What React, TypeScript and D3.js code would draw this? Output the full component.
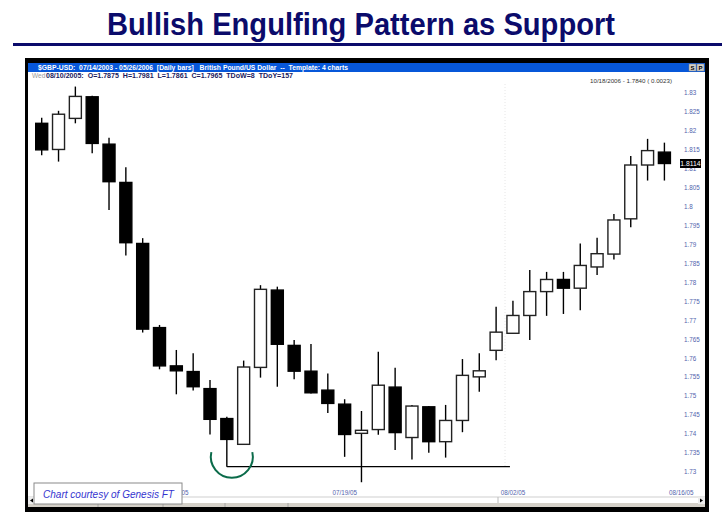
import React from "react";
import * as d3 from "d3";

const dates = [
  "06/23/05", "06/24/05", "06/27/05", "06/28/05", "06/29/05", "06/30/05", "07/01/05", "07/04/05",
  "07/05/05", "07/06/05", "07/07/05", "07/08/05", "07/11/05", "07/12/05", "07/13/05", "07/14/05",
  "07/15/05", "07/18/05", "07/19/05", "07/20/05", "07/21/05", "07/22/05", "07/25/05", "07/26/05",
  "07/27/05", "07/28/05", "07/29/05", "08/01/05", "08/02/05", "08/03/05", "08/04/05", "08/05/05",
  "08/08/05", "08/09/05", "08/10/05", "08/11/05", "08/12/05", "08/15/05",
];
const futureSlot = ["08/16/05"];

const openVals = [1.8220, 1.8151, 1.8233, 1.8290, 1.8165, 1.8064, 1.7903, 1.7681, 1.7580, 1.7565, 1.7520, 1.7441, 1.7373, 1.7576, 1.7780, 1.7634, 1.7566, 1.7516, 1.7479, 1.7402, 1.7412, 1.7524, 1.7391, 1.7472, 1.7380, 1.7436, 1.7551, 1.7621, 1.7666, 1.7713, 1.7776, 1.7808, 1.7785, 1.7841, 1.7875, 1.7968, 1.8110, 1.8144];
const highVals = [1.8235, 1.8253, 1.8317, 1.8293, 1.8182, 1.8104, 1.7917, 1.7688, 1.7622, 1.7613, 1.7543, 1.7446, 1.7594, 1.7793, 1.7789, 1.7648, 1.7638, 1.7560, 1.7492, 1.7461, 1.7617, 1.7575, 1.7477, 1.7474, 1.7477, 1.7598, 1.7613, 1.7736, 1.7752, 1.7833, 1.7828, 1.7828, 1.7903, 1.7918, 1.7981, 1.8134, 1.8179, 1.8169];
const lowVals = [1.8136, 1.8119, 1.8220, 1.8141, 1.7991, 1.7871, 1.7668, 1.7571, 1.7505, 1.7515, 1.7399, 1.7314, 1.7373, 1.7549, 1.7525, 1.7545, 1.7507, 1.7456, 1.7340, 1.7273, 1.7398, 1.7358, 1.7333, 1.7351, 1.7338, 1.7405, 1.7512, 1.7595, 1.7664, 1.7648, 1.7712, 1.7717, 1.7727, 1.7820, 1.7861, 1.7946, 1.8069, 1.8069];
const closeVals = [1.8150, 1.8244, 1.8291, 1.8167, 1.8066, 1.7905, 1.7677, 1.7580, 1.7567, 1.7525, 1.7439, 1.7386, 1.7577, 1.7782, 1.7637, 1.7566, 1.7509, 1.7481, 1.7399, 1.7410, 1.7529, 1.7404, 1.7474, 1.7380, 1.7436, 1.7555, 1.7567, 1.7669, 1.7713, 1.7776, 1.7808, 1.7785, 1.7845, 1.7876, 1.7965, 1.8110, 1.8148, 1.8114];

const yTicks = [1.73, 1.735, 1.74, 1.745, 1.75, 1.755, 1.76, 1.765, 1.77, 1.775, 1.78, 1.785, 1.79, 1.795, 1.8, 1.805, 1.81, 1.815, 1.82, 1.825, 1.83];
const xTickLabels = ["07/05/05", "07/19/05", "08/02/05", "08/16/05"];

const titleText = "Bullish Engulfing Pattern as Support";
const headerText = "$GBP-USD:  07/14/2003 - 05/26/2006  [Daily bars]   British Pound/US Dollar  --  Template: 4 charts";
const infoText = "08/10/2005:  O=1.7875  H=1.7981  L=1.7861  C=1.7965  TDoW=8  TDoY=157";
const cursorText = "10/18/2006 - 1.7840 ( 0.0023)";
const supportStart = "07/08/05";
const supportEnd = "08/02/05";
const lastPrice = 1.8114;
const courtesyText = "Chart courtesy of Genesis FT";

export default function App() {
  const allDates = [...dates, ...futureSlot];
  const x = d3.scalePoint<string>().domain(allDates).range([41.7, 41.7 + 16.83 * (allDates.length - 1)]);
  const y = d3.scaleLinear().domain([1.73, 1.83]).range([472, 93]);
  const fmt = d3.format(".4~f");
  const bw = 12;

  const candles = dates.map((d, i) => ({
    d, o: openVals[i], h: highVals[i], l: lowVals[i], c: closeVals[i],
  }));

  const sx = x(supportStart)!;
  const sy = y(lowVals[dates.indexOf(supportStart)]);
  const ex = x(supportEnd)! - 3;

  const arcPath = d3.path();
  const acx = sx + 5;
  const acy = sy - 10;
  const r = 21;
  arcPath.arc(acx, acy, r, Math.PI + 0.22, -0.22, true);

  const axisColor = "#5364ad";

  return (
    <svg width={727} height={512} style={{ position: "absolute", left: 0, top: 0, background: "#fff" }}
      fontFamily="'Liberation Sans', Arial, sans-serif">
      <rect x={0} y={0} width={727} height={512} fill="#fff" />
      {/* Title */}
      <text x={361} y={35} textAnchor="middle" fontSize={31} fontWeight="bold" fill="#0b0b6b"
        textLength={508} lengthAdjust="spacingAndGlyphs">{titleText}</text>
      <line x1={13} x2={722} y1={44.5} y2={44.5} stroke="#0b0b6b" strokeWidth={3} />

      {/* Frame */}
      <rect x={25} y={58} width={684} height={454} fill="#000" />
      <rect x={28} y={63} width={677} height={444} fill="#fff" />
      <rect x={28} y={63} width={677} height={9} fill="#0757d9" />
      <text x={38} y={70} fontSize={7.2} fontWeight="bold" fill="#fff" textLength={310} lengthAdjust="spacingAndGlyphs" style={{ whiteSpace: "pre" }}>{headerText}</text>
      <rect x={689} y={64} width={7} height={7} fill="#d4d0c8" stroke="#808080" strokeWidth={0.5} />
      <text x={692.5} y={70} fontSize={6} fontWeight="bold" textAnchor="middle" fill="#000">S</text>
      <rect x={697} y={64} width={7} height={7} fill="#d4d0c8" stroke="#808080" strokeWidth={0.5} />
      <text x={700.5} y={70} fontSize={6} fontWeight="bold" textAnchor="middle" fill="#000">P</text>

      <text x={32} y={78} fontSize={6.5} fill="#999">Wed</text>
      <text x={46} y={78} fontSize={6.5} fontWeight="bold" fill="#1a1a60" textLength={247} lengthAdjust="spacingAndGlyphs" style={{ whiteSpace: "pre" }}>{infoText}</text>
      <text x={590} y={83} fontSize={6} fill="#333" textLength={82} lengthAdjust="spacingAndGlyphs">{cursorText}</text>

      {/* faint vertical gridline */}
      <line x1={505} x2={505} y1={84} y2={sy} stroke="#e6e6e6" strokeWidth={1} strokeDasharray="1,2" />

      {/* Y axis labels */}
      {yTicks.map((t) => (
        <text key={t} x={684} y={y(t)} dy="0.35em" fontSize={6.3} fill={axisColor}>{fmt(t)}</text>
      ))}
      {/* X labels */}
      {xTickLabels.map((t) => (
        <text key={t} x={x(t)!} y={493} dy="0.35em" fontSize={6.3} textAnchor="middle" fill={axisColor}>{t}</text>
      ))}

      {/* Support line */}
      <line x1={sx} x2={ex} y1={sy} y2={sy} stroke="#000" strokeWidth={1.2} />

      {/* Candles */}
      {candles.map((k) => {
        const cx = x(k.d)!;
        const up = k.c >= k.o;
        const top = y(Math.max(k.o, k.c));
        const bot = y(Math.min(k.o, k.c));
        return (
          <g key={k.d}>
            <line x1={cx} x2={cx} y1={y(k.h)} y2={y(k.l)} stroke="#000" strokeWidth={1.4} />
            <rect x={cx - bw / 2} y={top} width={bw} height={Math.max(bot - top, 2)}
              fill={up ? "#fff" : "#000"} stroke={up ? "#222" : "#000"} strokeWidth={1.4} />
          </g>
        );
      })}

      {/* Green arc */}
      <path d={arcPath.toString()} fill="none" stroke="#0b6b4a" strokeWidth={2} />

      {/* last price marker */}
      <rect x={680} y={y(lastPrice) - 4.5} width={21} height={9} fill="#000" />
      <text x={690.5} y={y(lastPrice)} dy="0.35em" fontSize={6.8} textAnchor="middle" fill="#fff">{fmt(lastPrice)}</text>

      {/* bottom scrollbar/status */}
      <line x1={28} x2={705} y1={497} y2={497} stroke="#cfcfcf" strokeWidth={1} />
      <rect x={28} y={503} width={677} height={4} fill="#d4d0c8" />
      {[98, 163, 225, 288].map((v) => (
        <line key={v} x1={v} x2={v} y1={503} y2={507} stroke="#999" strokeWidth={0.8} />
      ))}
      <line x1={498} x2={498} y1={497} y2={503} stroke="#bbb" strokeWidth={1} />
      <rect x={698} y={497} width={7} height={7} fill="#ececec" />
      <path d="M700,498.5 L703,500.5 L700,502.5 Z" fill="#000" />
      <rect x={28} y={497} width={6} height={7} fill="#ececec" />
      <path d="M33,498.5 L30,500.5 L33,502.5 Z" fill="#000" />

      {/* courtesy box */}
      <rect x={34} y={483} width={148} height={21} fill="#fff" stroke="#8a8a8a" strokeWidth={1} />
      <text x={43} y={497.5} fontSize={11} fontStyle="italic" fill="#3535cf" textLength={131} lengthAdjust="spacingAndGlyphs">{courtesyText}</text>
    </svg>
  );
}
